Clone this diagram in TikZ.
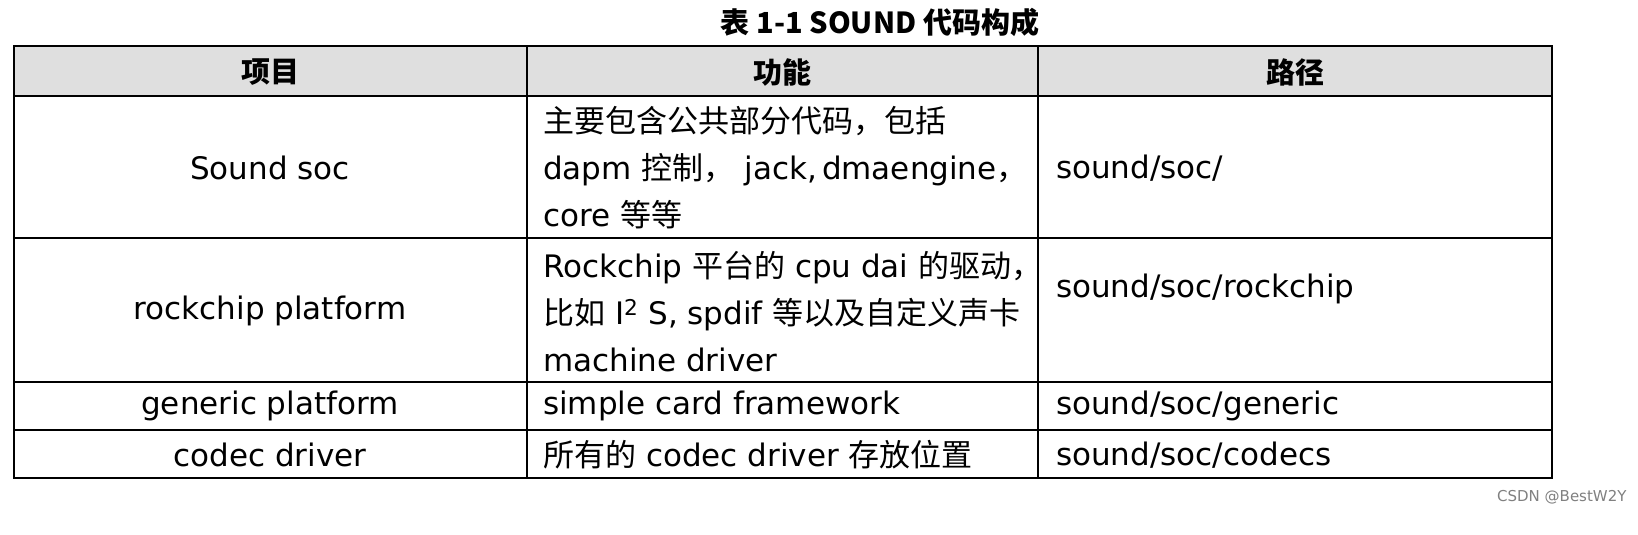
\documentclass[tikz,border=0pt]{standalone}
\usepackage{fontspec}
\setmainfont{DejaVu Sans}
\newfontfamily\cjk{Noto Sans CJK SC}
\newcommand{\zh}[1]{{\cjk #1}}
\begin{document}
\begin{tikzpicture}[x=1pt,y=-1pt,
  cell/.style={font=\fontsize{31}{47}\selectfont,inner sep=0pt},
  cellL/.style={cell,anchor=west,align=left},
  hd/.style={cell,font=\cjk\bfseries\fontsize{29}{32}\selectfont},
  grid/.style={line width=1.3pt}]
\useasboundingbox[fill=white] (0,0) rectangle (1638,535);
\fill[gray!25] (14,46) rectangle (1552,96);
\draw[grid] (14,46) rectangle (1552,478);
\foreach \y in {96,238,382,430} \draw[grid] (14,\y) -- (1552,\y);
\draw[grid] (527,46) -- (527,478);
\draw[grid] (1038,46) -- (1038,478);
\node[font=\cjk\bfseries\fontsize{29}{32}\selectfont] (title) at (880,22) {表\ 1-1 SOUND 代码构成};
\node[hd] (h1) at (270,72) {项目};
\node[hd] (h2) at (782,72) {功能};
\node[hd] (h3) at (1295,72) {路径};
\node[cell] (a1) at (270,168) {Sound soc};
\node[cellL] (b1) at (543,168) {\zh{主要包含公共部分代码，包括}\\dapm \zh{控制，} jack,\,dmaengine\zh{，}\\core \zh{等等}};
\node[cellL] (c1) at (1056,168) {sound/soc/};
\node[cell] (a2) at (270,311) {rockchip platform};
\node[cellL] (b2) at (543,312) {Rockchip \zh{平台的} cpu dai \zh{的驱动，}\\\zh{比如} I\textsuperscript{2} S, spdif \zh{等以及自定义声卡}\\machine driver};
\node[cellL] (c2) at (1056,289) {sound/soc/rockchip};
\node[cell] (a3) at (270,406) {generic platform};
\node[cellL] (b3) at (543,406) {simple card framework};
\node[cellL] (c3) at (1056,406) {sound/soc/generic};
\node[cell] (a4) at (270,455) {codec driver};
\node[cellL] (b4) at (543,455) {\zh{所有的} codec driver \zh{存放位置}};
\node[cellL] (c4) at (1056,455) {sound/soc/codecs};
\node[anchor=east,text=gray,font=\fontsize{15}{17}\selectfont] (wm) at (1630,497) {CSDN @BestW2Y};
\end{tikzpicture}
\end{document}
